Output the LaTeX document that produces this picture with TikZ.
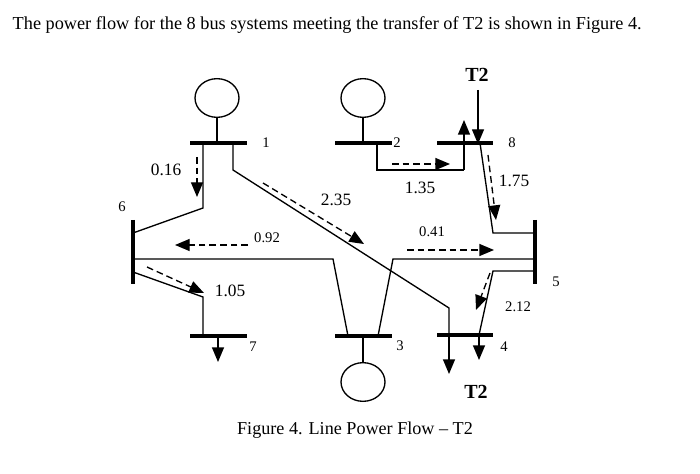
\documentclass[tikz,border=0pt]{standalone}
\usepackage{fontspec}
\setmainfont{Liberation Serif}
\usetikzlibrary{arrows.meta,shapes.geometric}
\begin{document}
\begin{tikzpicture}[x=0.75pt,y=-0.75pt,
  bus/.style={line width=2.3pt},
  ln/.style={line width=1pt},
  tip/.style={-{Triangle[length=11pt,width=9pt]}},
  flow/.style={dashed,line width=1pt,dash pattern=on 5pt off 3pt,-{Triangle[length=11pt,width=9pt]}},
  gen/.style={draw,line width=1pt,ellipse,minimum width=33pt,minimum height=29pt,inner sep=0pt},
  lbl/.style={font=\fontsize{13}{15}\selectfont,inner sep=1pt},
  num/.style={font=\fontsize{11}{13}\selectfont,inner sep=1pt}]
\useasboundingbox (0,0) rectangle (700,474);
\node[anchor=west,font=\fontsize{13.7}{16}\selectfont] (title) at (8,25) {The power flow for the 8 bus systems meeting the transfer of T2 is shown in Figure 4.};
\node[font=\fontsize{13.6}{16}\selectfont] (cap) at (355,430) {Figure 4. Line Power Flow -- T2};
% generators
\node[gen] (g1) at (217,98) {};
\node[gen] (g2) at (363,98) {};
\node[gen] (g3) at (363,382) {};
\draw[ln] (g1.south) -- (217,143);
\draw[ln] (g2.south) -- (363,143);
\draw[ln] (g3.north) -- (363,336);
% buses
\draw[bus] (190,143) -- (247,143); \node[num] (b1) at (266,143) {1};
\draw[bus] (335,143) -- (392,143); \node[num] (b2) at (397,143) {2};
\draw[bus] (437,143) -- (493,143); \node[num] (b8) at (512,143) {8};
\draw[bus] (133,220) -- (133,284); \node[num] (b6) at (122,207) {6};
\draw[bus] (535,220) -- (535,284); \node[num] (b5) at (556,282) {5};
\draw[bus] (190,336) -- (247,336); \node[num] (b7) at (253,347) {7};
\draw[bus] (335,336) -- (392,336); \node[num] (b3) at (400,346) {3};
\draw[bus] (437,335) -- (493,335); \node[num] (b4) at (504,347) {4};
% lines
\draw[ln] (203,143) -- (203,208) -- (133,233);
\draw[ln] (233,143) -- (233,170) -- (449,308) -- (449,335);
\draw[ln] (377,143) -- (377,170) -- (464,170);
\draw[ln,tip] (464,170) -- (464,120);
\draw[ln,tip] (478,90) -- (478,144);
\node[font=\bfseries\fontsize{15}{17}\selectfont] (t2a) at (477,75) {T2};
\draw[ln] (480,143) -- (493,233) -- (535,233);
\draw[ln] (133,259) -- (333,259) -- (348,336);
\draw[ln] (378,336) -- (393,259) -- (535,259);
\draw[ln] (133,272) -- (203,297) -- (203,336);
\draw[ln] (535,271) -- (493,271) -- (479,335);
% loads
\draw[ln,tip] (218,336) -- (218,362);
\draw[ln,tip] (449,335) -- (449,374);
\draw[ln,tip] (479,335) -- (479,360);
\node[font=\bfseries\fontsize{15}{17}\selectfont] (t2b) at (476,392) {T2};
% flows
\draw[flow] (197,157) -- (197,197); \node[lbl] (f1) at (166,170) {0.16};
\draw[flow] (263,183) -- (364,244); \node[lbl] (f2) at (336,200) {2.35};
\draw[flow] (392,164) -- (450,164); \node[lbl] (f3) at (420,188) {1.35};
\draw[flow] (488,155) -- (496,220); \node[lbl] (f4) at (514,181) {1.75};
\draw[flow] (248,245) -- (175,245); \node[num] (f5) at (267,238) {0.92};
\draw[flow] (407,250) -- (494,250); \node[num] (f6) at (432,232) {0.41};
\draw[flow] (147,267) -- (204,293); \node[lbl] (f7) at (230,291) {1.05};
\draw[flow] (490,273) -- (476,310); \node[num] (f8) at (518,307) {2.12};
\end{tikzpicture}
\end{document}
